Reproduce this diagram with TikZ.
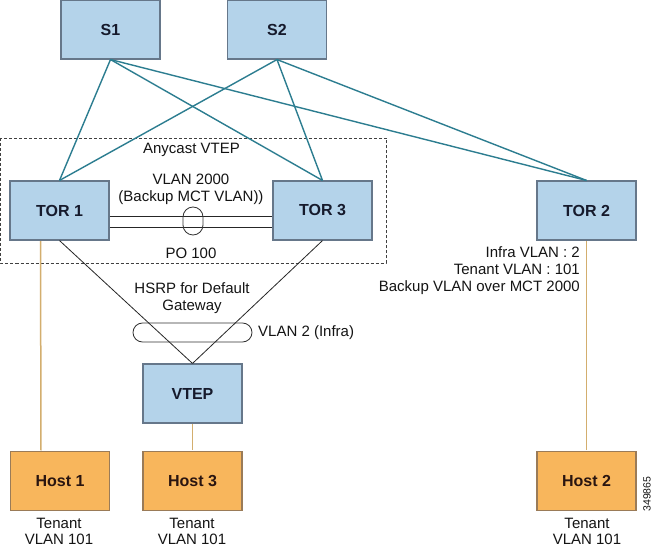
\documentclass[tikz,border=0pt]{standalone}
\usepackage{fontspec}
\setmainfont{Liberation Sans}
\usetikzlibrary{calc}
\definecolor{boxblue}{HTML}{B4D3EA}
\definecolor{boxblueedge}{HTML}{66778A}
\definecolor{hostorange}{HTML}{F8B65C}
\definecolor{hostedge}{HTML}{9A7B58}
\definecolor{uplink}{HTML}{2C7D90}
\definecolor{hostlink}{HTML}{D3AE6E}
\definecolor{labeltext}{HTML}{141414}
\definecolor{boxtext}{HTML}{161A2C}
\definecolor{hosttext}{HTML}{2A1510}
\begin{document}
\begin{tikzpicture}[x=1pt,y=-1pt,
  switchbox/.style={draw=boxblueedge,line width=1.1pt,fill=boxblue,minimum width=99pt,minimum height=59pt,inner sep=0pt,
    font=\fontsize{16}{18}\selectfont\bfseries,text=boxtext},
  hostbox/.style={draw=hostedge,line width=1.1pt,fill=hostorange,minimum width=99pt,minimum height=59pt,inner sep=0pt,
    font=\fontsize{16}{18}\selectfont\bfseries,text=hosttext},
  lbl/.style={font=\fontsize{15}{16.8}\selectfont,text=labeltext,inner sep=0pt,align=center},
  upl/.style={draw=uplink,line width=1.4pt},
  hsl/.style={draw=hostlink,line width=1.5pt},
  thinl/.style={draw=black!85,line width=0.8pt},
  capsule/.style={draw=black!80,line width=0.8pt}
]
\useasboundingbox (0,0) rectangle (654,553);
\fill[white] (0,0) rectangle (654,553);

% dashed anycast area
\draw[black!75,line width=0.8pt,dash pattern=on 3pt off 2pt] (0.5,138) rectangle (386,263);

% boxes
\node[switchbox] (S1) at (110.5,29.5) {S1};
\node[switchbox] (S2) at (277,29.5) {S2};
\node[switchbox] (TOR1) at (59.5,210.5) {TOR 1};
\node[switchbox] (TOR3) at (322.5,210.5) {TOR 3};
\node[switchbox] (TOR2) at (586.5,210.5) {TOR 2};
\node[switchbox] (VTEP) at (192.5,393.5) {VTEP};
\node[hostbox] (H1) at (60,481) {Host 1};
\node[hostbox] (H3) at (192.5,481) {Host 3};
\node[hostbox] (H2) at (586.5,481) {Host 2};

% uplinks
\draw[upl] (S1.south) -- (TOR1.north);
\draw[upl] (S1.south) -- (TOR3.north);
\draw[upl] (S1.south) -- (TOR2.north);
\draw[upl] (S2.south) -- (TOR1.north);
\draw[upl] (S2.south) -- (TOR3.north);
\draw[upl] (S2.south) -- (TOR2.north);

% MCT links
\draw[thinl] ($(TOR1.east)+(0,5.5)$) -- ($(TOR3.west)+(0,5.5)$);
\draw[thinl] ($(TOR1.east)+(0,16.5)$) -- ($(TOR3.west)+(0,16.5)$);
\draw[capsule,rounded corners=10pt] (183,207) rectangle (203,235);

% HSRP links
\draw[thinl] (TOR1.south) -- (VTEP.north);
\draw[thinl] (TOR3.south) -- (VTEP.north);
\draw[capsule,rounded corners=9.5pt] (133,323) rectangle (252,342);

% host links
\draw[hsl] ($(TOR1.south)+(-19,0.6)$) -- ($(H1.north)+(-19,-0.6)$);
\draw[hsl] ($(VTEP.south)+(0,0.6)$) -- ($(H3.north)+(0,-0.6)$);
\draw[hsl] ($(TOR2.south)+(0,0.6)$) -- ($(H2.north)+(0,-0.6)$);

% labels
\node[lbl] (anycast) at (191.5,150) {Anycast VTEP};
\node[lbl] (mct) at (191,189.5) {VLAN 2000\\(Backup MCT VLAN))};
\node[lbl] (po) at (191,253) {PO 100};
\node[lbl] (hsrp) at (192,298.5) {HSRP for Default\\Gateway};
\node[lbl,anchor=west] (infra) at (258,333) {VLAN 2 (Infra)};
\node[lbl,anchor=east,align=right] (tor2info) at (580,270.5) {Infra VLAN : 2\\Tenant VLAN : 101\\Backup VLAN over MCT 2000};
\node[lbl] (t1) at (59,531.5) {Tenant\\VLAN 101};
\node[lbl] (t3) at (192,531.5) {Tenant\\VLAN 101};
\node[lbl] (t2) at (587,531.5) {Tenant\\VLAN 101};
\node[font=\fontsize{10.5}{12}\selectfont,text=labeltext,rotate=90,inner sep=0pt] (fig) at (647,494) {349865};
\end{tikzpicture}
\end{document}
